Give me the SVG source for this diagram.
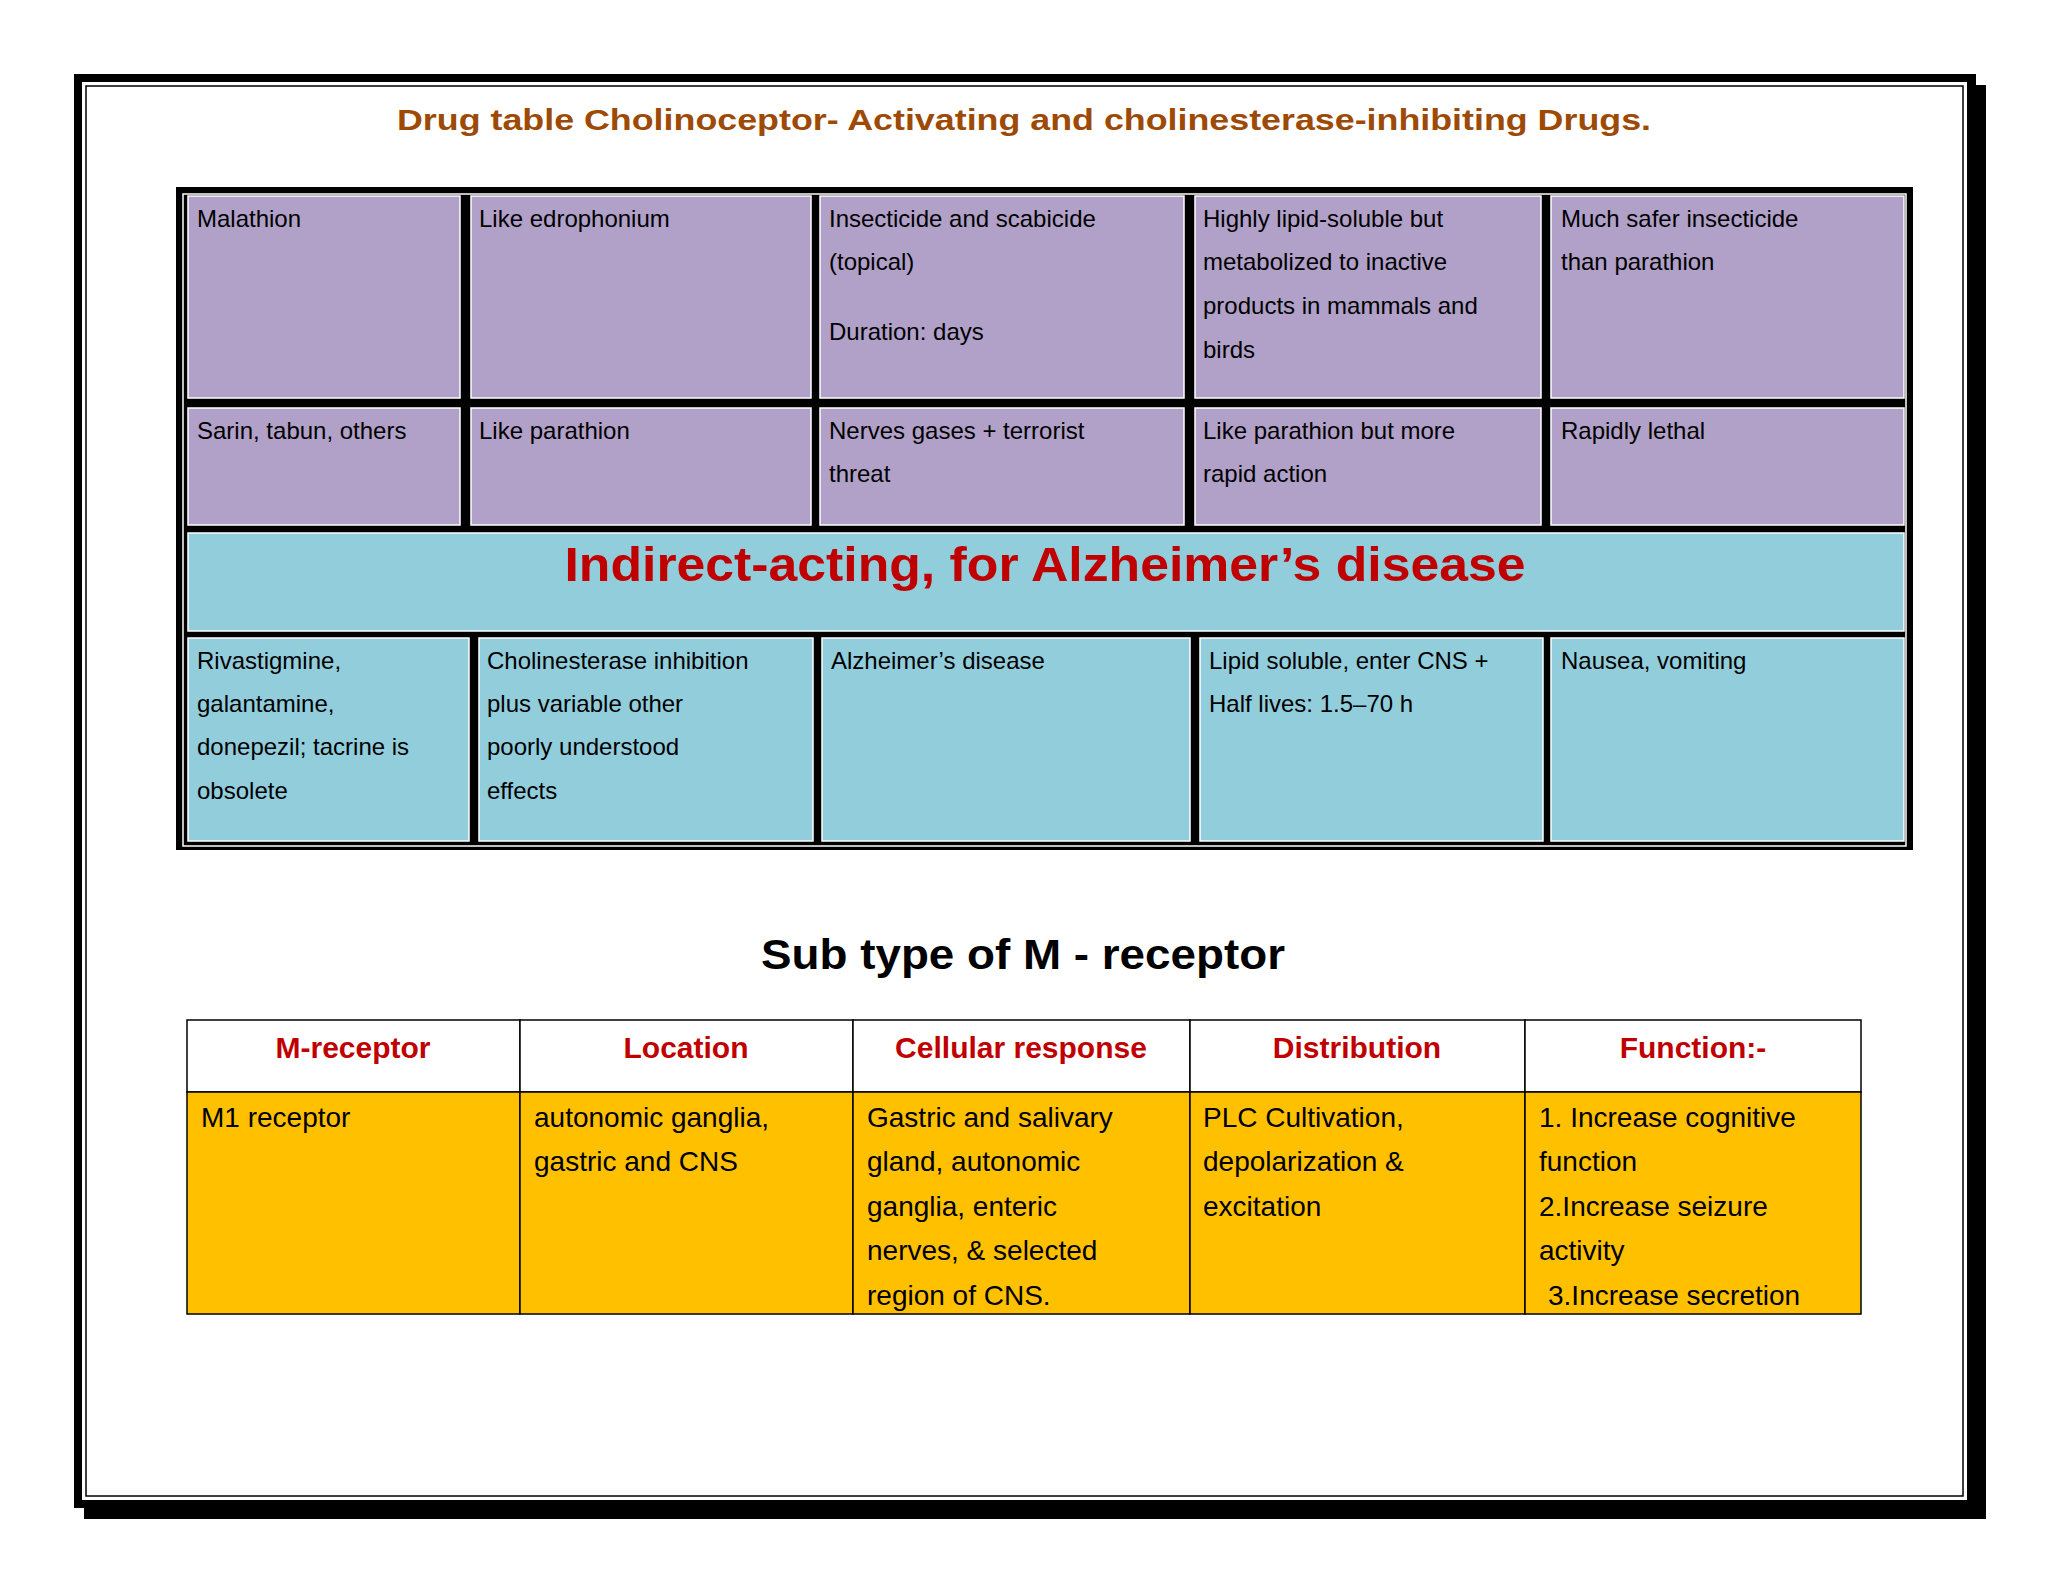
<svg xmlns="http://www.w3.org/2000/svg" width="2048" height="1582" viewBox="0 0 2048 1582">
<style>
.c{font-family:"Liberation Sans",Arial,sans-serif;font-size:24px;fill:#000}
.b{font-family:"Liberation Sans",Arial,sans-serif;font-size:28px;fill:#000}
.h{font-family:"Liberation Sans",Arial,sans-serif;font-size:30px;font-weight:bold;fill:#c00000;text-anchor:middle}
.p{fill:#b1a0c7;stroke:#fff;stroke-width:1.5}
.q{fill:#92cddc;stroke:#fff;stroke-width:1.5}
.y{fill:#ffc000;stroke:#000;stroke-width:1.5}
.w{fill:#fff;stroke:#000;stroke-width:1.5}
</style>
<rect width="2048" height="1582" fill="#fff"/>
<g id="frame">
<rect x="84" y="85" width="1902" height="1434" fill="#000"/>
<rect x="74" y="74" width="1902" height="1434" fill="#000"/>
<rect x="82" y="82" width="1885" height="1418" fill="#fff"/>
<rect x="86" y="86" width="1877" height="1410" fill="none" stroke="#000" stroke-width="1.5"/>
</g>
<text id="title" x="1024" y="130" text-anchor="middle" font-family="'Liberation Sans',Arial,sans-serif" font-size="29" font-weight="bold" fill="#9c4a06" textLength="1254" lengthAdjust="spacingAndGlyphs">Drug table Cholinoceptor- Activating and cholinesterase-inhibiting Drugs.</text>
<g id="table1">
<rect x="176" y="187" width="1737" height="663" fill="#000"/>
<rect x="183" y="194" width="1723" height="652" fill="none" stroke="#fff" stroke-width="1.5"/>
<rect class="p" x="188" y="196" width="272" height="202"/>
<rect class="p" x="471" y="196" width="340" height="202"/>
<rect class="p" x="820" y="196" width="364" height="202"/>
<rect class="p" x="1195" y="196" width="346" height="202"/>
<rect class="p" x="1551" y="196" width="353" height="202"/>
<rect class="p" x="188" y="408" width="272" height="117"/>
<rect class="p" x="471" y="408" width="340" height="117"/>
<rect class="p" x="820" y="408" width="364" height="117"/>
<rect class="p" x="1195" y="408" width="346" height="117"/>
<rect class="p" x="1551" y="408" width="353" height="117"/>
<rect class="q" x="188" y="533" width="1716" height="98"/>
<rect class="q" x="188" y="638" width="281" height="203"/>
<rect class="q" x="479" y="638" width="334" height="203"/>
<rect class="q" x="822" y="638" width="368" height="203"/>
<rect class="q" x="1200" y="638" width="343" height="203"/>
<rect class="q" x="1551" y="638" width="353" height="203"/>
<text class="c" x="197" y="227">Malathion</text>
<text class="c" x="479" y="227">Like edrophonium</text>
<text class="c" x="829" y="227">Insecticide and scabicide</text>
<text class="c" x="829" y="270">(topical)</text>
<text class="c" x="829" y="340">Duration: days</text>
<text class="c" x="1203" y="227">Highly lipid-soluble but</text>
<text class="c" x="1203" y="270">metabolized to inactive</text>
<text class="c" x="1203" y="314">products in mammals and</text>
<text class="c" x="1203" y="358">birds</text>
<text class="c" x="1561" y="227">Much safer insecticide</text>
<text class="c" x="1561" y="270">than parathion</text>
<text class="c" x="197" y="439">Sarin, tabun, others</text>
<text class="c" x="479" y="439">Like parathion</text>
<text class="c" x="829" y="439">Nerves gases + terrorist</text>
<text class="c" x="829" y="482">threat</text>
<text class="c" x="1203" y="439">Like parathion but more</text>
<text class="c" x="1203" y="482">rapid action</text>
<text class="c" x="1561" y="439">Rapidly lethal</text>
<text x="1045" y="581" text-anchor="middle" font-family="'Liberation Sans',Arial,sans-serif" font-size="48" font-weight="bold" fill="#c00000" textLength="961" lengthAdjust="spacingAndGlyphs">Indirect-acting, for Alzheimer’s disease</text>
<text class="c" x="197" y="669">Rivastigmine,</text>
<text class="c" x="197" y="712">galantamine,</text>
<text class="c" x="197" y="755">donepezil; tacrine is</text>
<text class="c" x="197" y="799">obsolete</text>
<text class="c" x="487" y="669">Cholinesterase inhibition</text>
<text class="c" x="487" y="712">plus variable other</text>
<text class="c" x="487" y="755">poorly understood</text>
<text class="c" x="487" y="799">effects</text>
<text class="c" x="831" y="669">Alzheimer’s disease</text>
<text class="c" x="1209" y="669">Lipid soluble, enter CNS +</text>
<text class="c" x="1209" y="712">Half lives: 1.5–70 h</text>
<text class="c" x="1561" y="669">Nausea, vomiting</text>
</g>
<text id="subtitle" x="1023" y="969" text-anchor="middle" font-family="'Liberation Sans',Arial,sans-serif" font-size="42" font-weight="bold" fill="#000" textLength="524" lengthAdjust="spacingAndGlyphs">Sub type of M - receptor</text>
<g id="table2">
<rect class="w" x="187" y="1020" width="333" height="72"/>
<rect class="w" x="520" y="1020" width="333" height="72"/>
<rect class="w" x="853" y="1020" width="337" height="72"/>
<rect class="w" x="1190" y="1020" width="335" height="72"/>
<rect class="w" x="1525" y="1020" width="336" height="72"/>
<rect class="y" x="187" y="1092" width="333" height="222"/>
<rect class="y" x="520" y="1092" width="333" height="222"/>
<rect class="y" x="853" y="1092" width="337" height="222"/>
<rect class="y" x="1190" y="1092" width="335" height="222"/>
<rect class="y" x="1525" y="1092" width="336" height="222"/>
<text class="h" x="353" y="1058">M-receptor</text>
<text class="h" x="686" y="1058">Location</text>
<text class="h" x="1021" y="1058">Cellular response</text>
<text class="h" x="1357" y="1058">Distribution</text>
<text class="h" x="1693" y="1058">Function:-</text>
<text class="b" x="201" y="1127">M1 receptor</text>
<text class="b" x="534" y="1127">autonomic ganglia,</text>
<text class="b" x="534" y="1171">gastric and CNS</text>
<text class="b" x="867" y="1127">Gastric and salivary</text>
<text class="b" x="867" y="1171">gland, autonomic</text>
<text class="b" x="867" y="1216">ganglia, enteric</text>
<text class="b" x="867" y="1260">nerves, &amp; selected</text>
<text class="b" x="867" y="1305">region of CNS.</text>
<text class="b" x="1203" y="1127">PLC Cultivation,</text>
<text class="b" x="1203" y="1171">depolarization &amp;</text>
<text class="b" x="1203" y="1216">excitation</text>
<text class="b" x="1539" y="1127">1. Increase cognitive</text>
<text class="b" x="1539" y="1171">function</text>
<text class="b" x="1539" y="1216">2.Increase seizure</text>
<text class="b" x="1539" y="1260">activity</text>
<text class="b" x="1548" y="1305">3.Increase secretion</text>
</g>
</svg>
